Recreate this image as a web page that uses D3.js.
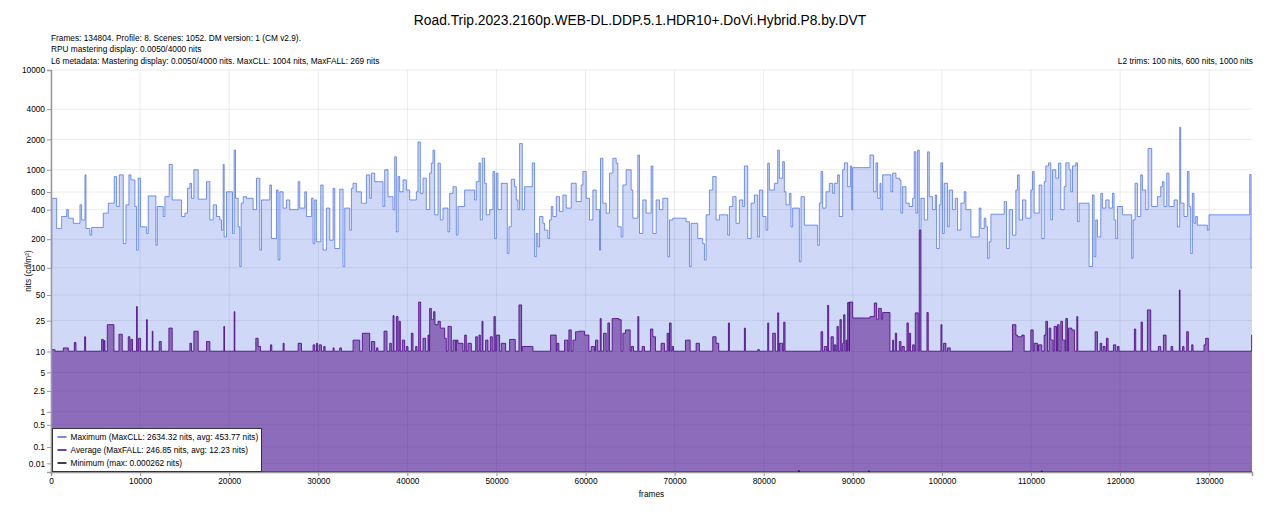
<!DOCTYPE html>
<html>
<head>
<meta charset="utf-8">
<script src="https://cdn.jsdelivr.net/npm/d3@7"></script>
<style>
body { margin: 0; background: #fff; }
text { font-family: "Liberation Sans", Arial, sans-serif; }
</style>
</head>
<body>
<svg></svg>
<script>
const title = 'Road.Trip.2023.2160p.WEB-DL.DDP.5.1.HDR10+.DoVi.Hybrid.P8.by.DVT';
const infoLines = [
	'Frames: 134804. Profile: 8. Scenes: 1052. DM version: 1 (CM v2.9).',
	'RPU mastering display: 0.0050/4000 nits',
	'L6 metadata: Mastering display: 0.0050/4000 nits. MaxCLL: 1004 nits, MaxFALL: 269 nits'
];
const l2Text = 'L2 trims: 100 nits, 600 nits, 1000 nits';
const totalFrames = 134804;

const yTicks = [0.01, 0.1, 0.5, 1, 2.5, 5, 10, 25, 50, 100, 200, 400, 600, 1000, 2000, 4000, 10000];
const xTicks = [0, 10000, 20000, 30000, 40000, 50000, 60000, 70000, 80000, 90000, 100000, 110000, 120000, 130000];

const legendLabels = [
	'Maximum (MaxCLL: 2634.32 nits, avg: 453.77 nits)',
	'Average (MaxFALL: 246.85 nits, avg: 12.23 nits)',
	'Minimum (max: 0.000262 nits)'
];

// scene starts [frame, nits] for max brightness
const maxScenes = [
[0,100],[80,520],[636,258],[1196,341],[1757,400],[1944,328],[2505,291],[3252,447],[3439,315],[3813,890],[3925,258],[4374,220],[4560,264],[5869,369],[6430,465],[7102,856],[7364,430],[7663,890],[8112,180],[8411,447],[8747,890],[8972,793],[9420,430],[9607,154],[9794,825],[10055,268],[10728,229],[10915,550],[11775,173],[11925,430],[12597,341],[12784,540],[13270,1130],[13607,501],[14653,341],[15027,369],[15326,654],[15588,734],[15775,520],[16037,1000],[16522,510],[17457,762],[17830,315],[18204,447],[18578,341],[18952,315],[19139,248],[19326,1130],[19438,211],[19700,604],[20373,229],[20560,1564],[20710,520],[21009,268],[21196,103],[21345,465],[21570,540],[21944,520],[22690,400],[23064,825],[23438,154],[23625,501],[24560,706],[24746,203],[25308,629],[25494,121],[25681,604],[26054,415],[26428,501],[26802,400],[27737,762],[27923,415],[28484,604],[28671,341],[29231,520],[29418,180],[29605,501],[29792,188],[30279,706],[30540,154],[30914,415],[31288,195],[31662,654],[31849,160],[32409,640],[32783,103],[32970,415],[33530,248],[33717,654],[33904,734],[34278,604],[34839,465],[35399,890],[35773,520],[35960,926],[36334,762],[37268,430],[37455,1000],[37829,540],[38390,400],[38577,1346],[38764,238],[38951,856],[39137,604],[39511,793],[39885,629],[40259,501],[41006,604],[41193,1884],[41455,583],[41754,825],[42128,400],[42502,926],[42689,1162],[42876,1564],[43063,355],[43437,1162],[43699,315],[43998,415],[44559,238],[44746,583],[45120,679],[45494,220],[45681,430],
[46430,629],[47552,501],[47738,762],[48037,1170],[48187,315],[48411,1300],[48673,734],[48860,355],[49234,400],[49607,961],[49794,203],[49981,926],[50168,400],[50542,734],[51215,142],[51402,268],[51663,805],[52037,679],[52224,501],[52411,400],[52598,1817],[52897,400],[53159,679],[54018,1170],[54280,131],[54467,229],[54654,166],[54841,341],[55214,291],[55401,248],[55775,203],[55962,315],[56149,430],[56336,341],[56710,540],[57083,384],[57457,561],[57831,415],[58392,734],[58952,482],[59513,706],[59700,961],[60074,520],[60448,315],[60821,629],[61195,400],[61569,154],[61681,1299],[61943,465],[62317,369],[62690,926],[63064,1299],[63438,1162],[63625,268],[63999,211],[64186,706],[64559,1000],[65120,629],[65307,328],[65868,1398],[66055,229],[66428,501],[66802,369],[67363,1090],[67550,229],[67924,501],[68297,400],[68671,520],[69232,131],[69419,315],[69793,328],[71288,302],[71662,103],[71849,291],[72596,203],[73157,180],[73344,121],[73531,355],[73904,629],[74278,856],[74652,315],[75026,355],[75960,220],[76147,430],[76521,540],[76895,291],[77269,501],[77642,430],[77829,1090],[78203,203],[78577,465],[78951,561],[79325,211],[79511,629],[79885,341],[80259,248],[80446,1162],[80633,629],[81194,734],[81567,1564],[81754,825],[82128,1204],[82315,604],[82502,447],[82876,583],[83063,268],[83249,415],[83997,116],[84184,540],[84558,279],[86053,173],[86240,465],[86427,961],[86614,415],[86988,604],[87362,734],[87735,583],[87922,734],[88296,890],[88483,341],[88857,1000],[89044,1170],[89418,679],[89720,1090],[89870,400],
[89982,1050],[91926,1398],[92337,604],[92598,1170],[92785,520],[93047,734],[93159,400],[93346,890],[94281,604],[94467,926],[94841,825],[95215,793],[95402,369],[95589,679],[95963,465],[96336,430],[96710,520],[96897,1506],[97084,369],[97271,1564],[97458,250],[97645,520],[98019,315],[98392,1506],[98579,540],[98953,400],[99252,561],[99402,160],[99701,447],[99888,1170],[100074,229],[100261,734],[100635,268],[100822,629],[101196,400],[101495,520],[101757,248],[102130,465],[102504,604],[102691,400],[103252,211],[104186,415],[104373,258],[104747,328],[104934,268],[105121,126],[105308,188],[105495,360],[106990,482],[107252,160],[107550,400],[107924,220],[108298,629],[108485,890],[108672,315],[109046,501],[109419,328],[109980,629],[110167,961],[110354,369],[110915,706],[111214,203],[111475,762],[111662,1090],[111961,1170],[112223,315],[112410,1000],[112784,825],[113083,1162],[113344,400],[113718,679],[113905,1170],[114279,1000],[114466,604],[114653,1090],[115026,1170],[115213,302],[115400,465],[116522,103],[116896,561],[117083,131],[117269,315],[117456,211],[117830,583],[118017,415],[118391,501],[118765,415],[119138,583],[119325,315],[119512,203],[119699,430],[120260,355],[121306,126],[121456,315],[121680,734],[121942,341],[122316,890],[122502,629],[122876,400],[123138,1624],[123549,430],[124184,540],[124558,679],[124745,762],[124932,430],[125231,926],[125493,430],[126053,501],[126427,268],[126689,2634.32],[126801,465],[127175,341],[127549,961],[127736,430],[127923,142],[128110,583],[128297,291],[128483,341],[128670,279],[129792,248],[129979,355],[134550,900],[134700,100]
];

// brighter-than-floor scenes [start, end, nits] for average brightness
const avgFloor = 10.1;
const avgScenes = [
[0,449,10.6],[1383,1944,11.2],[2617,2804,13.2],[3776,3888,15.7],[5682,5869,14.5],[5944,6056,14.0],[6318,7065,22.3],[7626,8000,16.9],[8672,8859,15.7],[8972,9158,14.5],[9607,9682,36.8],[9831,10055,15.0],[10728,10803,25.7],[11364,11439,18.5],[12149,12373,13.6],[13233,13607,20.2],[15588,15775,12.9],[16037,16522,18.5],[17457,17830,13.6],[19401,19476,21.2],[20560,20635,32],[22989,23251,15.0],[23251,23513,11.7],[24634,24784,12.3],[26054,26166,12.9],[27737,28110,12.9],[29418,29605,12.3],[29792,29904,12.9],[30092,30354,12.3],[30615,30765,11.7],[31662,31774,11.2],[32409,32596,11.2],[33904,34652,14.2],[34951,35773,17.4],[35960,36334,13.6],[36521,36700,11.2],[37380,37717,18.5],[38016,38203,12.9],[38390,38502,28.7],[38764,38951,28],[39063,39212,24.5],[39437,39698,14.2],[39885,40072,11.7],[40447,40634,17.4],[40931,41081,11.7],[41268,41492,41.5],[41754,42053,15.0],[42315,42428,16.5],[42502,42689,35],[42689,42950,25.7],[42950,43100,32],[43100,43437,22.3],[43437,43699,24.5],[43699,44185,20.2],[44185,44372,15.0],[44559,44933,21.2],[45120,45419,14.2],[45494,45683,14.2],[45683,46243,12.9],
[46430,46617,16.5],[46804,47178,12.9],[47664,47851,15.7],[48037,48187,16.5],[48374,48486,24.5],[48785,49047,14.2],[49309,49533,15.7],[49720,49869,28],[49981,50355,16.5],[50542,51028,12.9],[51477,52112,14.5],[52523,52822,38.5],[52897,54093,11.7],[56074,56710,16.5],[56785,57009,12.9],[57644,58018,14.2],[58130,58392,19.2],[58579,58877,14.2],[58877,59251,18.2],[59251,59887,18.5],[59887,60373,16.5],[60635,61008,11.7],[61121,61383,14.2],[61644,61756,26.5],[62018,62317,17.4],[62504,62690,23.4],[62990,63737,26.5],[63737,63999,25.7],[64186,64485,17.4],[64485,65008,19.2],[65120,65382,11.7],[65868,65980,28],[66353,66615,11.7],[67288,67550,19.7],[67550,67849,15.7],[68484,68858,12.9],[69157,69344,17.4],[69419,69606,23.4],[69718,69868,11.7],[71214,71737,14.2],[72409,72783,12.9],[74278,74652,15.7],[74652,74951,12.9],[76036,76147,23.4],[77829,77941,20.2],[79325,79511,10.6],[80446,80558,23.4],[81007,81306,17.4],[81567,81679,31],[81754,82128,12.9],[82240,82390,23.9],[86427,86614,18.2],[86801,87063,11.7],[87175,87287,38],[87549,87810,15.7],[87922,88109,12.3],[88221,88371,21.2],[88558,88707,25.7],[88857,88969,12.9],[88969,89118,29.4],[89231,89343,14.2],[89418,89605,41],
[89608,89982,41.5],[89982,91926,26.9],[91926,92412,28],[92412,92673,40.5],[92673,92897,26],[92897,93196,35],[93196,93346,26],[93346,94168,31.3],[94467,94579,14.2],[94766,94916,17.4],[95215,95402,13.6],[95514,95776,11.7],[96075,96224,23.4],[96336,96486,17.4],[96710,96897,12.3],[97009,97346,31],[97458,97645,246.85],[98318,98467,31.3],[99888,99999,22.3],[100187,100448,12.9],[100635,100934,11.2],[107924,108298,22.3],[108298,108485,16.5],[108485,108971,15.7],[108971,109232,16.5],[109980,110242,19.2],[110354,110728,12.9],[110840,111214,12.3],[111475,111662,16.5],[111662,111849,24.5],[112036,112223,20.2],[112223,112485,14.2],[112597,112859,21.2],[112971,113158,22.3],[113344,113531,24.5],[113531,113830,14.2],[113905,114092,26.5],[114204,114578,20.2],[114578,114877,19.2],[115139,115250,28],[117195,117456,18.2],[117755,117942,12.9],[118092,118316,11.7],[118466,118653,15.0],[119250,119512,12.3],[119699,119886,11.7],[121605,121755,19.7],[122353,122502,24],[123063,123437,33.6],[124296,124558,11.7],[124857,125157,16.5],[125717,125904,11.7],[126652,126727,57],[127008,127175,11.7],[127474,127661,18.2],[128035,128185,12.3],[129418,129605,12.3],[129605,129904,15.0],[134763,134804,16.5]
];

// minimum brightness, zero except a few scenes
const minScenes = [[83888,84000,0.000262],[91738,91850,0.00021],[111140,111250,0.00018]];

const width = 1280, height = 512;
const svg = d3.select('svg').attr('width', width).attr('height', height);

const plot = { left: 51, right: 1252, top: 70, bottom: 472 };
const smallFont = 8.3;

// PQ (ST 2084) inverse EOTF, the y axis is linear in PQ code value
const m1 = 0.1593017578125, m2 = 78.84375, c1 = 0.8359375, c2 = 18.8515625, c3 = 18.6875;
const pq = n => {
	const ym = Math.pow(Math.max(n, 0) / 10000, m1);
	return Math.pow((c1 + c2 * ym) / (1 + c3 * ym), m2);
};

const xScale = d3.scaleLinear().domain([0, totalFrames]).range([plot.left, plot.right]);
const yScale = d3.scaleLinear().domain([0, 1]).range([plot.bottom, plot.top]);
const yNits = n => yScale(pq(n));

// step series
const maxSeries = maxScenes.concat([[totalFrames, maxScenes[maxScenes.length - 1][1]]]);

const toSteps = (scenes, floor) => {
	const out = [];
	let prevEnd = 0;
	scenes.forEach(s => {
		if (s[0] > prevEnd) out.push([prevEnd, floor]);
		out.push([s[0], s[2]]);
		prevEnd = s[1];
	});
	if (prevEnd < totalFrames) out.push([prevEnd, floor]);
	out.push([totalFrames, out[out.length - 1][1]]);
	return out;
};
const avgSeries = toSteps(avgScenes, avgFloor);
const minSeries = toSteps(minScenes, 0);

// title and header texts
svg.append('text')
	.attr('x', 640).attr('y', 25)
	.attr('text-anchor', 'middle')
	.attr('font-size', 13.8)
	.attr('fill', '#000')
	.text(title);

svg.selectAll('.info')
	.data(infoLines)
	.enter().append('text')
	.attr('class', 'info')
	.attr('x', plot.left)
	.attr('y', (d, i) => 41 + i * 11.3)
	.attr('font-size', smallFont)
	.text(d => d);

svg.append('text')
	.attr('x', plot.right + 1).attr('y', 63.5)
	.attr('text-anchor', 'end')
	.attr('font-size', smallFont)
	.text(l2Text);

// grid
const grid = svg.append('g');
grid.selectAll('.hgrid')
	.data(yTicks)
	.enter().append('line')
	.attr('x1', plot.left).attr('x2', plot.right)
	.attr('y1', d => yNits(d)).attr('y2', d => yNits(d))
	.attr('stroke', '#000').attr('stroke-opacity', 0.08);
grid.selectAll('.vgrid')
	.data(xTicks)
	.enter().append('line')
	.attr('x1', d => xScale(d)).attr('x2', d => xScale(d))
	.attr('y1', plot.top).attr('y2', plot.bottom)
	.attr('stroke', '#000').attr('stroke-opacity', 0.08);

// max
const area = d3.area()
	.curve(d3.curveStepAfter)
	.x(d => xScale(d[0]))
	.y0(plot.bottom)
	.y1(d => yNits(d[1]));
const line = d3.line()
	.curve(d3.curveStepAfter)
	.x(d => xScale(d[0]))
	.y(d => yNits(d[1]));

svg.append('path')
	.attr('d', area(maxSeries))
	.attr('fill', 'royalblue').attr('fill-opacity', 0.25);
svg.append('path')
	.attr('d', line(maxSeries))
	.attr('fill', 'none')
	.attr('stroke', 'royalblue').attr('stroke-opacity', 0.7).attr('stroke-width', 1);

// average
svg.append('path')
	.attr('d', area(avgSeries))
	.attr('fill', 'indigo').attr('fill-opacity', 0.5);
svg.append('path')
	.attr('d', line(avgSeries))
	.attr('fill', 'none')
	.attr('stroke', 'indigo').attr('stroke-opacity', 0.8).attr('stroke-width', 1);

// minimum
svg.append('path')
	.attr('d', line(minSeries))
	.attr('fill', 'none')
	.attr('stroke', '#000').attr('stroke-width', 1);

// axes
const yAxis = d3.axisLeft(yScale)
	.tickValues(yTicks.map(pq))
	.tickFormat((d, i) => String(yTicks[i]))
	.tickSize(4).tickPadding(2);
const yAxisG = svg.append('g')
	.attr('transform', `translate(${plot.left},0)`)
	.call(yAxis);

const xAxis = d3.axisBottom(xScale)
	.tickValues(xTicks)
	.tickFormat(d3.format('d'))
	.tickSize(4).tickPadding(2);
const xAxisG = svg.append('g')
	.attr('transform', `translate(0,${plot.bottom})`)
	.call(xAxis);

[yAxisG, xAxisG].forEach(g => {
	g.selectAll('.domain').attr('stroke', '#999').attr('stroke-width', 1.5);
	g.selectAll('.tick line').attr('stroke', '#999');
	g.selectAll('.tick text')
		.attr('font-family', '"Liberation Sans", Arial, sans-serif')
		.attr('font-size', smallFont).attr('fill', '#000');
});

svg.append('text')
	.attr('transform', `translate(31,${(plot.top + plot.bottom) / 2}) rotate(-90)`)
	.attr('text-anchor', 'middle')
	.attr('font-size', smallFont)
	.text('nits (cd/m²)');

svg.append('text')
	.attr('x', (plot.left + plot.right) / 2).attr('y', 497)
	.attr('text-anchor', 'middle')
	.attr('font-size', smallFont)
	.text('frames');

// legend
const legendColors = ['royalblue', 'indigo', '#000'];
const legend = svg.append('g').attr('transform', 'translate(52.5,428.5)');
legend.append('rect')
	.attr('width', 209).attr('height', 43)
	.attr('fill', '#fff').attr('stroke', '#333');
legend.selectAll('.lg-line')
	.data(legendLabels)
	.enter().append('line')
	.attr('x1', 5).attr('x2', 14)
	.attr('y1', (d, i) => 8.5 + i * 13).attr('y2', (d, i) => 8.5 + i * 13)
	.attr('stroke', (d, i) => legendColors[i]).attr('stroke-width', 1.5);
legend.selectAll('.lg-text')
	.data(legendLabels)
	.enter().append('text')
	.attr('x', 18)
	.attr('y', (d, i) => 11.5 + i * 13)
	.attr('font-size', smallFont)
	.text(d => d);
</script>
</body>
</html>
